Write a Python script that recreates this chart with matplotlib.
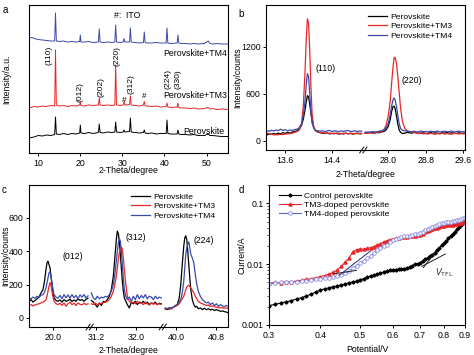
import numpy as np
import matplotlib
matplotlib.use("Agg")
import matplotlib.pyplot as plt

plt.rcParams['font.family'] = ['Liberation Sans', 'DejaVu Sans']
plt.rcParams['font.size'] = 6.3
plt.rcParams['axes.linewidth'] = 0.8
plt.rcParams['xtick.major.size'] = 2.5
plt.rcParams['ytick.major.size'] = 2.5
plt.rcParams['xtick.major.width'] = 0.7
plt.rcParams['ytick.major.width'] = 0.7

# ----- panel a : full XRD patterns (vertices, a.u.) -----
a_black_x = [7.8, 9, 10, 11, 12, 13, 13.9, 14.1, 14.3, 15, 16, 17, 18, 19, 19.85, 20.0, 20.15,
             21, 22, 23, 24.3, 24.5, 24.7, 25.5, 26.5, 27.5, 28.2, 28.4, 28.6, 29.5, 30.2, 30.4,
             30.6, 31.7, 31.9, 32.1, 33, 34, 35.0, 35.2, 35.4, 36, 37, 38, 39, 40.4, 40.6, 40.8,
             41.5, 43.0, 43.2, 43.4, 44, 45, 46, 47, 48, 49.5, 50.4, 50.8, 51.5, 52.5, 53.5, 55.1]
a_black_y = [15, 16, 17.5, 17, 18, 17.5, 18.5, 36, 19, 18.5, 19.5, 18.5, 19.5, 19, 20, 28, 20,
             19.5, 20.5, 19.5, 20.5, 29, 20.5, 20, 21, 20.5, 21, 31, 21, 20.5, 21, 23,
             21, 21.5, 35, 21, 20.5, 20, 20.5, 23, 20, 19.5, 20, 19, 19.5, 19.5, 33, 19.5,
             19, 19, 23, 19, 18.5, 18.5, 18, 18.5, 17.5, 17.5, 19, 17.5, 17.5, 17, 16.5, 16.5]

a_red_x = [7.8, 9, 10, 11, 12, 13, 13.9, 14.1, 14.3, 15, 16, 17, 18, 19, 19.85, 20.0, 20.15,
           21, 22, 23, 24.3, 24.5, 24.7, 25.5, 26.5, 27.5, 28.2, 28.4, 28.6, 29.5, 30.2, 30.4,
           30.6, 31.7, 31.9, 32.1, 33, 34, 35.0, 35.2, 35.4, 36, 37, 38, 39, 40.4, 40.6, 40.8,
           41.5, 43.0, 43.2, 43.4, 44, 45, 46, 47, 48, 49.5, 50.4, 50.8, 51.5, 52.5, 53.5, 55.1]
a_red_y = [45, 46.5, 46, 47, 46.5, 47.5, 47, 103, 48, 47, 47.5, 46.5, 47.5, 47, 48, 51, 47.5,
           47, 48, 47.5, 48, 55, 48, 47.5, 48, 47.5, 48, 88, 48, 47.5, 48, 51.5,
           48, 48.5, 57, 48, 47.5, 47, 48, 51.5, 47.5, 47, 46.5, 47, 46, 46.5, 50, 46,
           45.5, 46, 50, 45.5, 45, 45, 44.5, 45, 44, 44.5, 45.5, 44, 44.5, 43.5, 44, 43.5]

a_blue_x = [7.8, 8.5, 9, 10, 11, 12, 13, 13.9, 14.1, 14.3, 15, 16, 17, 18, 19, 19.85, 20.0, 20.15,
            21, 22, 23, 24.3, 24.5, 24.7, 25.5, 26.5, 27.5, 28.2, 28.4, 28.6, 29.5, 30.2, 30.4,
            30.6, 31.7, 31.9, 32.1, 33, 34, 35.0, 35.2, 35.4, 36, 37, 38, 39, 40.4, 40.6, 40.8,
            41.5, 43.0, 43.2, 43.4, 44, 45, 46, 47, 48, 49.5, 50.4, 50.8, 51.5, 52.5, 53.5, 55.1]
a_blue_y = [115, 115.5, 114.5, 113.5, 113, 112.5, 112, 112, 140, 112, 111.5, 112, 111, 111.5, 111, 111.5, 118, 111,
            111, 111.5, 110.5, 111, 124, 111, 110.5, 111, 110.5, 111, 128, 111, 110.5, 111, 114.5,
            111, 111, 125, 111, 110.5, 110, 110.5, 121, 110.5, 110, 110, 110.5, 110, 110, 125, 110,
            109.5, 110, 118, 110, 109.5, 109.5, 109, 109.5, 109, 109.5, 112, 109.5, 109, 109.5, 109, 109]

a_peak_labels = ['(110)', '(012)', '(202)', '(220)', '(312)', '(224)', '(330)']
a_peak_label_x = [12.6, 19.9, 24.8, 28.6, 32.0, 40.8, 43.3]
a_peak_label_y = [98, 61, 66, 97, 69, 74, 74]
a_ito_x = [30.4, 35.3]
a_ito_y = [53, 56]

# ----- panel b : (110) and (220) peaks, counts -----
b_x1 = [13.28, 13.32, 13.36, 13.40, 13.44, 13.48, 13.52, 13.56, 13.60, 13.64, 13.68, 13.72,
        13.76, 13.80, 13.84, 13.88, 13.91, 13.94, 13.96, 13.98, 14.00, 14.02, 14.04, 14.06,
        14.09, 14.12, 14.16, 14.20, 14.24, 14.28, 14.32, 14.36, 14.40, 14.44, 14.48, 14.52,
        14.56, 14.60, 14.64, 14.68, 14.72, 14.76, 14.80, 14.84, 14.88, 14.91]
b_black1 = [75, 90, 85, 95, 88, 100, 92, 105, 98, 110, 100, 115, 120, 130, 150, 200, 280, 400,
            500, 580, 560, 470, 360, 250, 170, 130, 115, 105, 100, 95, 102, 90, 98, 92, 100, 88,
            95, 90, 100, 92, 96, 88, 95, 100, 90, 95]
b_red1 = [100, 95, 85, 80, 78, 80, 85, 82, 88, 90, 95, 100, 110, 120, 140, 220, 450, 900,
          1300, 1560, 1500, 1150, 700, 350, 180, 130, 115, 110, 105, 100, 98, 100, 95, 100, 92,
          98, 95, 100, 96, 92, 100, 95, 98, 92, 100, 96]
b_blue1 = [130, 125, 135, 128, 140, 132, 150, 135, 145, 130, 140, 135, 145, 150, 170, 220, 330,
           520, 720, 860, 820, 600, 380, 230, 160, 135, 130, 125, 130, 120, 128, 135, 120, 130,
           125, 118, 130, 122, 128, 135, 120, 125, 130, 122, 128, 125]

b_x2 = [27.50, 27.55, 27.60, 27.65, 27.70, 27.75, 27.80, 27.85, 27.90, 27.95, 28.00, 28.04,
        28.07, 28.10, 28.12, 28.14, 28.17, 28.20, 28.23, 28.26, 28.30, 28.35, 28.40, 28.45,
        28.50, 28.55, 28.60, 28.65, 28.70, 28.75, 28.80, 28.85, 28.90, 28.95, 29.00, 29.05,
        29.10, 29.15, 29.20, 29.25, 29.30, 29.35, 29.40, 29.45, 29.50, 29.55, 29.60, 29.636]
b_red2 = [100, 95, 105, 100, 110, 105, 115, 120, 140, 200, 330, 520, 750, 950, 1060, 1070, 1000,
          830, 620, 420, 250, 160, 130, 120, 115, 110, 100, 95, 105, 90, 95, 88, 100, 92, 85, 95,
          90, 100, 88, 95, 90, 85, 95, 100, 88, 95, 90, 92]
b_black2 = [105, 100, 110, 105, 100, 110, 105, 115, 120, 140, 190, 280, 380, 440, 445, 420, 330,
            220, 140, 110, 95, 100, 110, 105, 100, 110, 105, 98, 100, 105, 95, 100, 108, 98, 105,
            100, 95, 105, 100, 110, 98, 105, 100, 95, 105, 100, 98, 100]
b_blue2 = [110, 115, 112, 120, 115, 118, 125, 130, 140, 165, 230, 340, 450, 530, 550, 530, 450,
           330, 220, 160, 135, 130, 125, 120, 118, 125, 115, 120, 128, 118, 122, 115, 125, 120,
           118, 128, 115, 122, 125, 118, 120, 128, 115, 122, 125, 118, 120, 115]
b_ticks = [13.6, 14.4, 28.0, 28.8, 29.6]

# ----- panel c : (012), (312), (224) peaks, counts -----
c_x1 = [19.52, 19.56, 19.60, 19.64, 19.68, 19.72, 19.76, 19.80, 19.83, 19.86, 19.88, 19.90,
        19.92, 19.94, 19.96, 19.99, 20.02, 20.06, 20.10, 20.14, 20.18, 20.22, 20.26, 20.30,
        20.34, 20.38, 20.42, 20.46, 20.50, 20.54, 20.58, 20.62, 20.66, 20.70]
c_black1 = [100, 110, 95, 105, 115, 125, 150, 170, 220, 290, 330, 340, 320, 300, 250, 170, 120,
            105, 100, 108, 95, 110, 100, 105, 112, 98, 108, 100, 115, 105, 110, 100, 112, 118]
c_blue1 = [120, 115, 125, 118, 130, 125, 135, 140, 155, 180, 210, 240, 270, 276, 250, 190, 140,
           125, 118, 135, 115, 140, 120, 138, 118, 140, 122, 135, 115, 138, 125, 140, 120, 132]
c_red1 = [75, 80, 72, 78, 82, 85, 90, 95, 100, 110, 130, 160, 190, 212, 195, 140, 100, 85, 80,
          88, 75, 90, 70, 85, 95, 80, 88, 75, 90, 82, 78, 88, 80, 85]

c_x2 = [31.10, 31.14, 31.18, 31.22, 31.26, 31.30, 31.34, 31.38, 31.42, 31.46, 31.50, 31.54,
        31.57, 31.60, 31.62, 31.64, 31.66, 31.68, 31.70, 31.72, 31.74, 31.76, 31.79, 31.82,
        31.86, 31.90, 31.94, 31.98, 32.02, 32.06, 32.10, 32.14, 32.18, 32.22, 32.26, 32.30,
        32.34, 32.38, 32.42, 32.46, 32.50]
c_black2 = [105, 95, 80, 65, 90, 75, 100, 95, 110, 130, 170, 250, 360, 470, 520, 505, 460, 380,
            300, 220, 160, 120, 100, 80, 60, 95, 85, 100, 80, 95, 90, 100, 85, 95, 80, 90, 85,
            95, 80, 88, 85]
c_blue2 = [150, 120, 110, 130, 115, 125, 120, 130, 125, 140, 160, 200, 260, 340, 400, 450, 476,
           460, 400, 320, 240, 170, 130, 110, 125, 100, 130, 110, 140, 115, 135, 120, 140, 115,
           130, 125, 110, 130, 115, 125, 120]
c_red2 = [85, 80, 90, 78, 85, 88, 92, 95, 100, 110, 130, 160, 200, 250, 300, 350, 390, 415, 426,
          410, 360, 290, 200, 130, 100, 90, 95, 85, 100, 88, 90, 80, 95, 85, 78, 90, 82, 88, 80,
          85, 82]

c_x3 = [39.78, 39.82, 39.86, 39.90, 39.94, 39.98, 40.02, 40.06, 40.09, 40.12, 40.15, 40.17,
        40.19, 40.21, 40.23, 40.25, 40.27, 40.29, 40.32, 40.35, 40.38, 40.41, 40.44, 40.48,
        40.52, 40.56, 40.60, 40.64, 40.68, 40.72, 40.76, 40.80, 40.84, 40.88, 40.92, 40.96,
        41.00, 41.03]
c_black3 = [55, 50, 60, 55, 65, 70, 80, 120, 200, 320, 430, 480, 492, 470, 400, 320, 240, 170,
            110, 80, 65, 70, 55, 60, 50, 58, 50, 55, 48, 52, 45, 50, 45, 40, 42, 38, 35, 32]
c_blue3 = [60, 55, 62, 58, 65, 75, 80, 95, 110, 150, 220, 300, 380, 420, 440, 456, 420, 380, 360,
           330, 260, 200, 160, 130, 110, 100, 90, 95, 80, 90, 75, 85, 70, 80, 72, 68, 75, 70]
c_red3 = [55, 58, 50, 60, 62, 70, 75, 85, 100, 115, 130, 150, 170, 185, 192, 196, 190, 180, 165,
          150, 130, 115, 100, 90, 85, 80, 75, 78, 70, 72, 68, 65, 62, 60, 62, 58, 60, 58]
c_ticks = [20.0, 31.2, 32.0, 40.0, 40.8]

# ----- panel d : I-V curves (log-log) -----
d_v = [0.30, 0.31, 0.32, 0.33, 0.34, 0.35, 0.36, 0.37, 0.38, 0.39, 0.40, 0.41, 0.42, 0.43,
       0.44, 0.45, 0.46, 0.47, 0.48, 0.49, 0.50, 0.51, 0.52, 0.53, 0.54, 0.55, 0.56, 0.57,
       0.58, 0.59, 0.60, 0.61, 0.62, 0.63, 0.64, 0.65, 0.66, 0.67, 0.68, 0.69, 0.70, 0.71,
       0.72, 0.73, 0.74, 0.75, 0.76, 0.77, 0.78, 0.79, 0.80, 0.81, 0.82, 0.83, 0.84, 0.85,
       0.86, 0.87, 0.88, 0.89, 0.90]
d_control = [0.00208, 0.00218, 0.00229, 0.00240, 0.00252, 0.00267, 0.00281, 0.00300, 0.00322,
             0.00348, 0.00376, 0.00392, 0.00408, 0.00424, 0.00440, 0.00455, 0.00472, 0.00490,
             0.00510, 0.00528, 0.00549, 0.00578, 0.00610, 0.00640, 0.00665, 0.00681, 0.00710,
             0.00740, 0.00770, 0.00790, 0.00802, 0.00815, 0.00826, 0.00838, 0.00848, 0.00860,
             0.00900, 0.00950, 0.00990, 0.0102, 0.0105, 0.0112, 0.0120, 0.0128, 0.0135, 0.0143,
             0.0155, 0.0170, 0.0186, 0.0203, 0.0220, 0.0243, 0.0265, 0.0290, 0.0315, 0.0342,
             0.0372, 0.0405, 0.0440, 0.0475, 0.0513]
d_tm3 = [0.00484, 0.00500, 0.00492, 0.00515, 0.00508, 0.00530, 0.00545, 0.00560, 0.00580,
         0.00600, 0.00624, 0.00650, 0.00690, 0.00730, 0.00810, 0.00920, 0.01080, 0.01260,
         0.01610, 0.01720, 0.01780, 0.01760, 0.01820, 0.01870, 0.01950, 0.02070, 0.02180,
         0.02320, 0.02420, 0.02520, 0.02600, 0.02650, 0.02700, 0.02750, 0.02800, 0.02840,
         0.02870, 0.02900, 0.02950, 0.02980, 0.03000, 0.03150, 0.03320, 0.03500, 0.03650,
         0.03790, 0.03900, 0.04000, 0.04100, 0.04200, 0.04300, 0.04350, 0.04400, 0.04450,
         0.04480, 0.04500, 0.04600, 0.04700, 0.04800, 0.04900, 0.05000]
d_tm4 = [0.00470, 0.00490, 0.00500, 0.00508, 0.00512, 0.00515, 0.00525, 0.00535, 0.00548,
         0.00560, 0.00570, 0.00585, 0.00600, 0.00620, 0.00640, 0.00660, 0.00710, 0.00760,
         0.00860, 0.00950, 0.01040, 0.01140, 0.01240, 0.01340, 0.01520, 0.01710, 0.01850,
         0.01980, 0.02100, 0.02280, 0.02500, 0.02600, 0.02700, 0.02780, 0.02850, 0.02900,
         0.02950, 0.03000, 0.03080, 0.03150, 0.03200, 0.03400, 0.03600, 0.03800, 0.04000,
         0.04140, 0.04300, 0.04450, 0.04580, 0.04700, 0.04800, 0.04870, 0.04950, 0.05000,
         0.05050, 0.05100, 0.05250, 0.05400, 0.05550, 0.05700, 0.05800]
# fitted tangent lines (V, I)
d_fit_low = ([0.43, 0.49], [0.0069, 0.0079])
d_fit_steep = ([0.445, 0.53], [0.0066, 0.0165])
d_tfl_low = ([0.707, 0.806], [0.0092, 0.0147])
d_tfl_steep = ([0.713, 0.762], [0.0088, 0.0159])

BLACK = 'black'
RED = '#e8262a'
BLUE = '#3a4aa8'


def seg_map(x, segs):
    """map data x to axes-fraction x on a broken axis"""
    x = np.asarray(x, float)
    out = np.full(x.shape, np.nan)
    for d0, d1, p0, p1 in segs:
        m = (x >= d0 - 1e-9) & (x <= d1 + 1e-9)
        out[m] = p0 + (x[m] - d0) * (p1 - p0) / (d1 - d0)
    return out


def break_mark(ax, xpos):
    for dx in (-0.008, 0.008):
        ax.plot([xpos + dx - 0.01, xpos + dx + 0.01], [-0.02, 0.02], color='black',
                lw=0.7, transform=ax.transAxes, clip_on=False)


W, H = 474, 355
fig = plt.figure(figsize=(W / 100, H / 100), dpi=100)


def box(l, t, r, b):
    return [l / W, 1 - b / H, (r - l) / W, (b - t) / H]


ax_a = fig.add_axes(box(29, 5, 228, 153))
ax_b = fig.add_axes(box(266, 5, 465, 150))
ax_c = fig.add_axes(box(29, 185, 228, 327))
ax_d = fig.add_axes(box(269, 185, 465, 325))

for ax in (ax_a, ax_b, ax_c, ax_d):
    ax.tick_params(direction='out', pad=1.5, labelsize=6.3)

# ---- a ----
ax_a.plot(a_black_x, a_black_y, color=BLACK, lw=0.7)
ax_a.plot(a_red_x, a_red_y, color=RED, lw=0.7)
ax_a.plot(a_blue_x, a_blue_y, color=BLUE, lw=0.7)
ax_a.set_xlim(7.8, 55.1)
ax_a.set_ylim(0, 148)
ax_a.set_xticks([10, 20, 30, 40, 50])
ax_a.set_yticks([])
for lab, x, y in zip(a_peak_labels, a_peak_label_x, a_peak_label_y):
    ax_a.text(x, y, lab, rotation=90, ha='center', va='center', fontsize=6.1)
for x, y in zip(a_ito_x, a_ito_y):
    ax_a.text(x, y, '#', ha='center', va='center', fontsize=5.8)
ax_a.text(27.9, 138, '#:  ITO', ha='left', va='center', fontsize=6.3)
ax_a.text(54.8, 100, 'Perovskite+TM4', ha='right', va='center', fontsize=6.3)
ax_a.text(55.0, 57, 'Perovskite+TM3', ha='right', va='center', fontsize=6.3)
ax_a.text(54.3, 22, 'Perovskite', ha='right', va='center', fontsize=6.3)
ax_a.set_xlabel('2-Theta/degree')
ax_a.set_ylabel('Intensity/a.u.')
ax_a.xaxis.set_label_coords(0.5, -0.09)
ax_a.yaxis.set_label_coords(-0.09, 0.5)

# ---- b ----
segs_b = [(13.27, 14.91, 0.0, 0.4807), (27.50, 29.636, 0.4975, 1.0)]
for xs, ys, col, lab in [(b_x1, b_black1, BLACK, 'Perovskite'),
                         (b_x1, b_red1, RED, 'Perovskite+TM3'),
                         (b_x1, b_blue1, BLUE, 'Perovskite+TM4')]:
    ax_b.plot(seg_map(xs, segs_b), ys, color=col, lw=0.9, label=lab)
for xs, ys, col in [(b_x2, b_black2, BLACK), (b_x2, b_red2, RED), (b_x2, b_blue2, BLUE)]:
    ax_b.plot(seg_map(xs, segs_b), ys, color=col, lw=0.9)
ax_b.set_xlim(0, 1)
ax_b.set_ylim(-115, 1736)
ax_b.set_xticks(seg_map(b_ticks, segs_b))
ax_b.set_xticklabels(['%.1f' % t for t in b_ticks])
ax_b.set_yticks([0, 600, 1200])
break_mark(ax_b, 0.489)
ax_b.text(0.30, 920, '(110)', ha='center', va='center')
ax_b.text(0.73, 766, '(220)', ha='center', va='center')
ax_b.legend(loc='upper right', frameon=False, fontsize=6.1, handlelength=2.2,
            handletextpad=0.4, labelspacing=0.15, borderaxespad=0.4,
            bbox_to_anchor=(0.97, 0.99))
ax_b.set_xlabel('2-Theta/degree')
ax_b.set_ylabel('Intensity/counts')
ax_b.xaxis.set_label_coords(0.5, -0.135)
ax_b.yaxis.set_label_coords(-0.118, 0.5)

# ---- c ----
segs_c = [(19.52, 20.72, 0.0, 0.3015), (31.10, 32.50, 0.3132, 0.665),
          (39.77, 41.03, 0.6817, 1.0)]
first = True
for xs, blk, rd, bl in [(c_x1, c_black1, c_red1, c_blue1), (c_x2, c_black2, c_red2, c_blue2),
                        (c_x3, c_black3, c_red3, c_blue3)]:
    mx = seg_map(xs, segs_c)
    ax_c.plot(mx, blk, color=BLACK, lw=0.9, label='Perovskite' if first else None)
    ax_c.plot(mx, rd, color=RED, lw=0.9, label='Perovskite+TM3' if first else None)
    ax_c.plot(mx, bl, color=BLUE, lw=0.9, label='Perovskite+TM4' if first else None)
    first = False
ax_c.set_xlim(0, 1)
ax_c.set_ylim(-54, 796)
ax_c.set_xticks(seg_map(c_ticks, segs_c))
ax_c.set_xticklabels(['%.1f' % t for t in c_ticks])
ax_c.set_yticks([0, 200, 400, 600])
break_mark(ax_c, 0.305)
break_mark(ax_c, 0.672)
ax_c.text(0.22, 366, '(012)', ha='center', va='center')
ax_c.text(0.536, 480, '(312)', ha='center', va='center')
ax_c.text(0.879, 466, '(224)', ha='center', va='center')
ax_c.legend(loc='upper right', frameon=False, fontsize=6.1, handlelength=2.2,
            handletextpad=0.4, labelspacing=0.15, borderaxespad=0.4,
            bbox_to_anchor=(0.97, 0.99))
ax_c.set_xlabel('2-Theta/degree')
ax_c.set_ylabel('Intensity/counts')
ax_c.xaxis.set_label_coords(0.5, -0.135)
ax_c.yaxis.set_label_coords(-0.095, 0.5)

# ---- d ----
ax_d.plot(d_v, d_control, color=BLACK, lw=0.8, marker='D', ms=1.6, label='Control perovskite')
ax_d.plot(d_v, d_tm3, color=RED, lw=0.8, marker='^', ms=2.2, label='TM3-doped perovskite')
ax_d.plot(d_v, d_tm4, color='#5566cc', lw=0.8, marker='o', ms=2.6, mfc='white',
          mec='#8c8ce0', mew=0.6, label='TM4-doped perovskite')
ax_d.plot(*d_fit_low, color='#222222', lw=0.7)
ax_d.plot(*d_fit_steep, color='#1c2a78', lw=0.7)
ax_d.plot(*d_tfl_low, color='#222222', lw=0.7)
ax_d.plot(*d_tfl_steep, color='#222222', lw=0.7)
ax_d.text(0.762, 0.0072, r'$V_{\rm TFL}$', ha='left', va='center', fontsize=6.3, color='#333333')
ax_d.set_xscale('log')
ax_d.set_yscale('log')
ax_d.set_xlim(0.3, 0.9)
ax_d.set_ylim(0.001, 0.2)
d_xticks = [0.3, 0.4, 0.5, 0.6, 0.7, 0.8, 0.9]
ax_d.set_xticks(d_xticks)
ax_d.set_xticklabels(['%.1f' % t for t in d_xticks])
ax_d.xaxis.set_minor_locator(matplotlib.ticker.NullLocator())
ax_d.set_yticks([0.001, 0.01, 0.1])
ax_d.set_yticklabels(['0.001', '0.01', '0.1'])
ax_d.tick_params(which='minor', length=1.5, width=0.5)
ax_d.legend(loc='upper left', frameon=False, fontsize=6.1, handlelength=2.6,
            handletextpad=0.4, labelspacing=0.1, borderaxespad=0.3,
            bbox_to_anchor=(0.02, 0.99))
ax_d.set_xlabel('Potential/V')
ax_d.set_ylabel('Current/A')
ax_d.xaxis.set_label_coords(0.5, -0.14)
ax_d.yaxis.set_label_coords(-0.117, 0.5)

# panel letters
for lab, x, y in [('a', 5, 10), ('b', 241, 14), ('c', 4, 190), ('d', 241, 190)]:
    fig.text(x / W, 1 - y / H, lab, ha='center', va='center', fontsize=7)

fig.savefig('out.png', dpi=100)
